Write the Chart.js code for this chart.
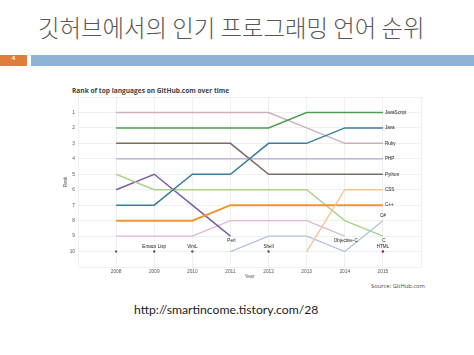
<!DOCTYPE html>
<html><head><meta charset="utf-8">
<script src="https://cdn.jsdelivr.net/npm/chart.js@4"></script>
<style>
html,body{margin:0;padding:0;background:#fff;}
#wrap{position:relative;width:474px;height:355px;overflow:hidden;background:#fff;}
canvas{position:absolute;left:0;top:0;}
.t{position:absolute;white-space:nowrap;}
</style></head><body>
<div id="wrap">
<div class="t" id="slideTitle" style="left:38px;top:16px;font-family:'Noto Sans CJK KR';font-weight:300;font-size:23.4px;color:#5b5756;line-height:1;">깃허브에서의 인기 프로그래밍 언어 순위</div>
<div style="position:absolute;left:0;top:55px;width:27px;height:11px;background:#e07d3c;"></div>
<div class="t" style="left:0;top:55px;width:27px;height:11px;line-height:11px;text-align:center;color:#fff;font:bold 6px 'Liberation Sans';">4</div>
<div style="position:absolute;left:31px;top:55px;width:443px;height:11px;background:#8fb3d5;"></div>
<div class="t" id="chartTitle" style="left:72px;top:87px;font:bold 6.6px 'Open Sans';color:#444;line-height:8px;">Rank of top languages on GitHub.com over time</div>
<div class="t" id="src" style="left:371px;top:282px;font:5.8px 'Open Sans';color:#444;line-height:8px;">Source: GitHub.com</div>
<div class="t" id="url" style="left:134px;top:302px;font:12.2px 'Lato';color:#222;line-height:16px;">http://smartincome.tistory.com/28</div>
<canvas id="c" width="474" height="355"></canvas>
</div>
<script>
// ---- data ----
const years = [2008, 2009, 2010, 2011, 2012, 2013, 2014, 2015];
const rubyRank       = [1, 1, 1, 1, 1, 2, 3, 3];
const javascriptRank = [2, 2, 2, 2, 2, 1, 1, 1];
const javaRank       = [7, 7, 5, 5, 3, 3, 2, 2];
const phpRank        = [4, 4, 4, 4, 4, 4, 4, 4];
const pythonRank     = [3, 3, 3, 3, 5, 5, 5, 5];
const cssRank        = [null, null, null, null, null, 10, 6, 6];
const cppRank        = [8, 8, 8, 7, 7, 7, 7, 7];
const csharpRank     = [null, null, null, 10, 9, 9, 10, 8];
const cRank          = [5, 6, 6, 6, 6, 6, 8, 9];
const perlRank       = [6, 5, 7, 9, null, null, null, null];
const objcRank       = [9, 9, 9, 8, 8, 8, 9, null];
const unnamedRank    = [10, null, null, null, null, null, null, null];
const emacsRank      = [null, 10, null, null, null, null, null, null];
const vimlRank       = [null, null, 10, null, null, null, null, null];
const shellRank      = [null, null, null, null, 10, null, null, null];
const htmlRank       = [null, null, null, null, null, null, null, 10];
const rankTicks = [1, 2, 3, 4, 5, 6, 7, 8, 9, 10];

const lineNames  = ['JavaScript', 'Java', 'Ruby', 'PHP', 'Python', 'CSS', 'C++', 'C#', 'C', 'Perl', 'Objective-C'];
const lineValues = [javascriptRank, javaRank, rubyRank, phpRank, pythonRank, cssRank, cppRank, csharpRank, cRank, perlRank, objcRank];
const lineColors = ['#4f9d52', '#3b7d9d', '#cdb0b7', '#b2a9d2', '#7c6a66', '#f5c48e', '#f09535', '#b0c3db', '#a8d389', '#7a5da7', '#dcb7d5'];
const lineWidths = [1.5, 1.5, 1.5, 1.2, 1.5, 1.3, 2, 1.3, 1.4, 1.5, 1.3];
const labelPos   = ['right', 'right', 'right', 'right', 'right', 'right', 'right', 'above', 'below', 'below', 'below'];

const pointNames  = ['', 'Emacs Lisp', 'VimL', 'Shell', 'HTML'];
const pointValues = [unnamedRank, emacsRank, vimlRank, shellRank, htmlRank];
const pointColors = ['#666', '#555', '#555', '#555', '#9c1d2e'];

const toXY = arr => years.map((yr, i) => ({x: yr, y: arr[i]}));

const datasets = [];
lineNames.forEach((n, i) => datasets.push({
  label: n, data: toXY(lineValues[i]), borderColor: lineColors[i], backgroundColor: lineColors[i],
  borderWidth: lineWidths[i], pointRadius: 0, tension: 0, spanGaps: false, fill: false,
  _labelPos: labelPos[i]
}));
pointNames.forEach((n, i) => datasets.push({
  label: n, data: toXY(pointValues[i]), showLine: false, borderColor: pointColors[i], backgroundColor: pointColors[i],
  pointRadius: 1.2, borderWidth: 0, _labelPos: 'above'
}));

const endLabels = {
  id: 'endLabels',
  afterDatasetsDraw(chart) {
    const ctx = chart.ctx;
    ctx.save();
    ctx.font = '4.6px "Liberation Sans"';
    chart.data.datasets.forEach((ds, i) => {
      if (!ds.label) return;
      const meta = chart.getDatasetMeta(i);
      let el = null;
      for (let k = ds.data.length - 1; k >= 0; k--) {
        if (ds.data[k].y !== null) { el = meta.data[k]; break; }
      }
      if (!el) return;
      ctx.fillStyle = '#222';
      if (ds._labelPos === 'right') {
        ctx.textAlign = 'left'; ctx.textBaseline = 'middle';
        ctx.fillText(ds.label, el.x + 2, el.y);
      } else if (ds._labelPos === 'above') {
        ctx.textAlign = 'center'; ctx.textBaseline = 'bottom';
        ctx.fillText(ds.label, el.x, el.y - 2.5);
      } else {
        ctx.textAlign = 'center'; ctx.textBaseline = 'top';
        ctx.fillText(ds.label, el.x + 1, el.y + 2);
      }
    });
    ctx.restore();
  }
};

new Chart(document.getElementById('c'), {
  type: 'line',
  data: { datasets },
  plugins: [endLabels],
  options: {
    responsive: false, animation: false, devicePixelRatio: 1,
    layout: { padding: { left: 60, right: 53, top: 97, bottom: 68 } },
    plugins: { legend: { display: false }, tooltip: { enabled: false }, title: { display: false } },
    scales: {
      x: {
        type: 'linear', min: 2007, max: 2016,
        afterFit: s => { s.height = 20; },
        afterBuildTicks: s => { s.ticks = [2007].concat(years, [2016]).map(v => ({value: v})); },
        ticks: { padding: 2, color: '#555', font: { size: 4.8, family: 'Liberation Sans' }, maxRotation: 0, autoSkip: false,
          callback: v => years.includes(v) ? String(v) : '' },
        grid: { color: '#ececec', lineWidth: 0.8, drawTicks: false },
        border: { display: false },
        title: { display: true, text: 'Year', color: '#555', font: { size: 5, family: 'Liberation Sans' }, padding: { top: 0, bottom: 7 } }
      },
      y: {
        type: 'linear', reverse: true, min: 0, max: 11,
        afterFit: s => { s.width = 18; },
        afterBuildTicks: s => { s.ticks = [0].concat(rankTicks, [11]).map(v => ({value: v})); },
        ticks: { padding: 3, color: '#555', font: { size: 4.8, family: 'Liberation Sans' }, autoSkip: false,
          callback: v => rankTicks.includes(v) ? String(v) : '' },
        grid: { color: '#ececec', lineWidth: 0.8, drawTicks: false },
        border: { display: false },
        title: { display: true, text: 'Rank', color: '#555', font: { size: 4.6, family: 'Liberation Sans' }, padding: { top: 3, bottom: 0 } }
      }
    }
  }
});
</script>
</body></html>
